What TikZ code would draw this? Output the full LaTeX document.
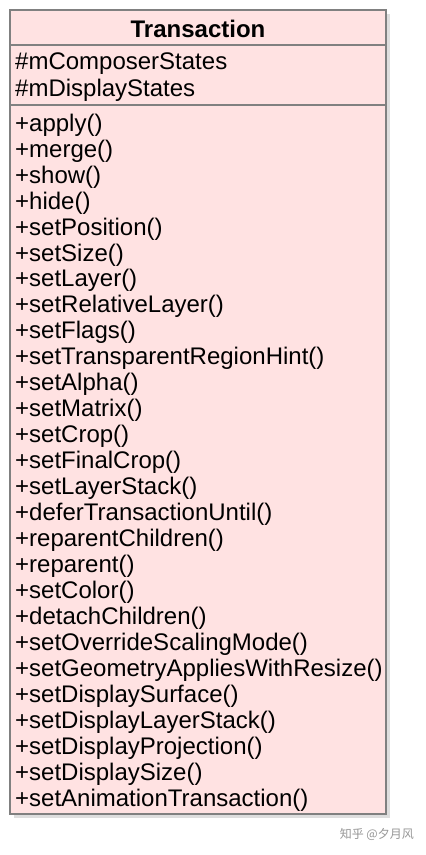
\documentclass[tikz,border=0pt]{standalone}
\usepackage{fontspec}
\setmainfont{Liberation Sans}
\newfontfamily\cjkfont{Noto Sans CJK SC}
\definecolor{boxfill}{RGB}{255,226,226}
\definecolor{boxline}{RGB}{128,128,128}
\definecolor{shadowc}{RGB}{222,222,222}
\definecolor{wmark}{RGB}{150,150,150}
\begin{document}
\begin{tikzpicture}[x=1pt,y=-1pt,
  member/.style={anchor=west,inner sep=0pt,font=\fontsize{24}{26}\selectfont,text=black},
  titletext/.style={inner sep=0pt,font=\fontsize{24}{26}\selectfont\bfseries,text=black},
  frame/.style={draw=boxline,line width=1.2pt},
  sep/.style={draw=boxline,line width=1.2pt}]
\useasboundingbox (0,0) rectangle (426,855);
\fill[white] (0,0) rectangle (426,855);
% shadow
\fill[shadowc] (14,14) rectangle (390,818);
% box
\coordinate (tl) at (10,10);
\coordinate (br) at (386,814);
\fill[boxfill] (tl) rectangle (br);
\coordinate (s1l) at (10,45); \coordinate (s1r) at (386,45);
\coordinate (s2l) at (10,105); \coordinate (s2r) at (386,105);
\draw[sep] (s1l) -- (s1r);
\draw[sep] (s2l) -- (s2r);
\draw[frame] (tl) rectangle (br);
\node[titletext] (title) at (198,28.5) {Transaction};
\node[member] (a1) at (15,64) {\#mComposerStates};
\node[member] (a2) at (15,90) {\#mDisplayStates};
\foreach \t [count=\i from 0] in {+apply(),+merge(),+show(),+hide(),+setPosition(),+setSize(),+setLayer(),+setRelativeLayer(),+setFlags(),+setTransparentRegionHint(),+setAlpha(),+setMatrix(),+setCrop(),+setFinalCrop(),+setLayerStack(),+deferTransactionUntil(),+reparentChildren(),+reparent(),+setColor(),+detachChildren(),+setOverrideScalingMode(),+setGeometryAppliesWithResize(),+setDisplaySurface(),+setDisplayLayerStack(),+setDisplayProjection(),+setDisplaySize(),+setAnimationTransaction()}{
  \node[member] (m\i) at (15,{125+25.96*\i}) {\t};
}
\node[anchor=east,inner sep=0pt,text=wmark,font=\cjkfont\fontsize{12}{14}\selectfont] (wm) at (414,834) {知乎 @夕月风};
\end{tikzpicture}
\end{document}
